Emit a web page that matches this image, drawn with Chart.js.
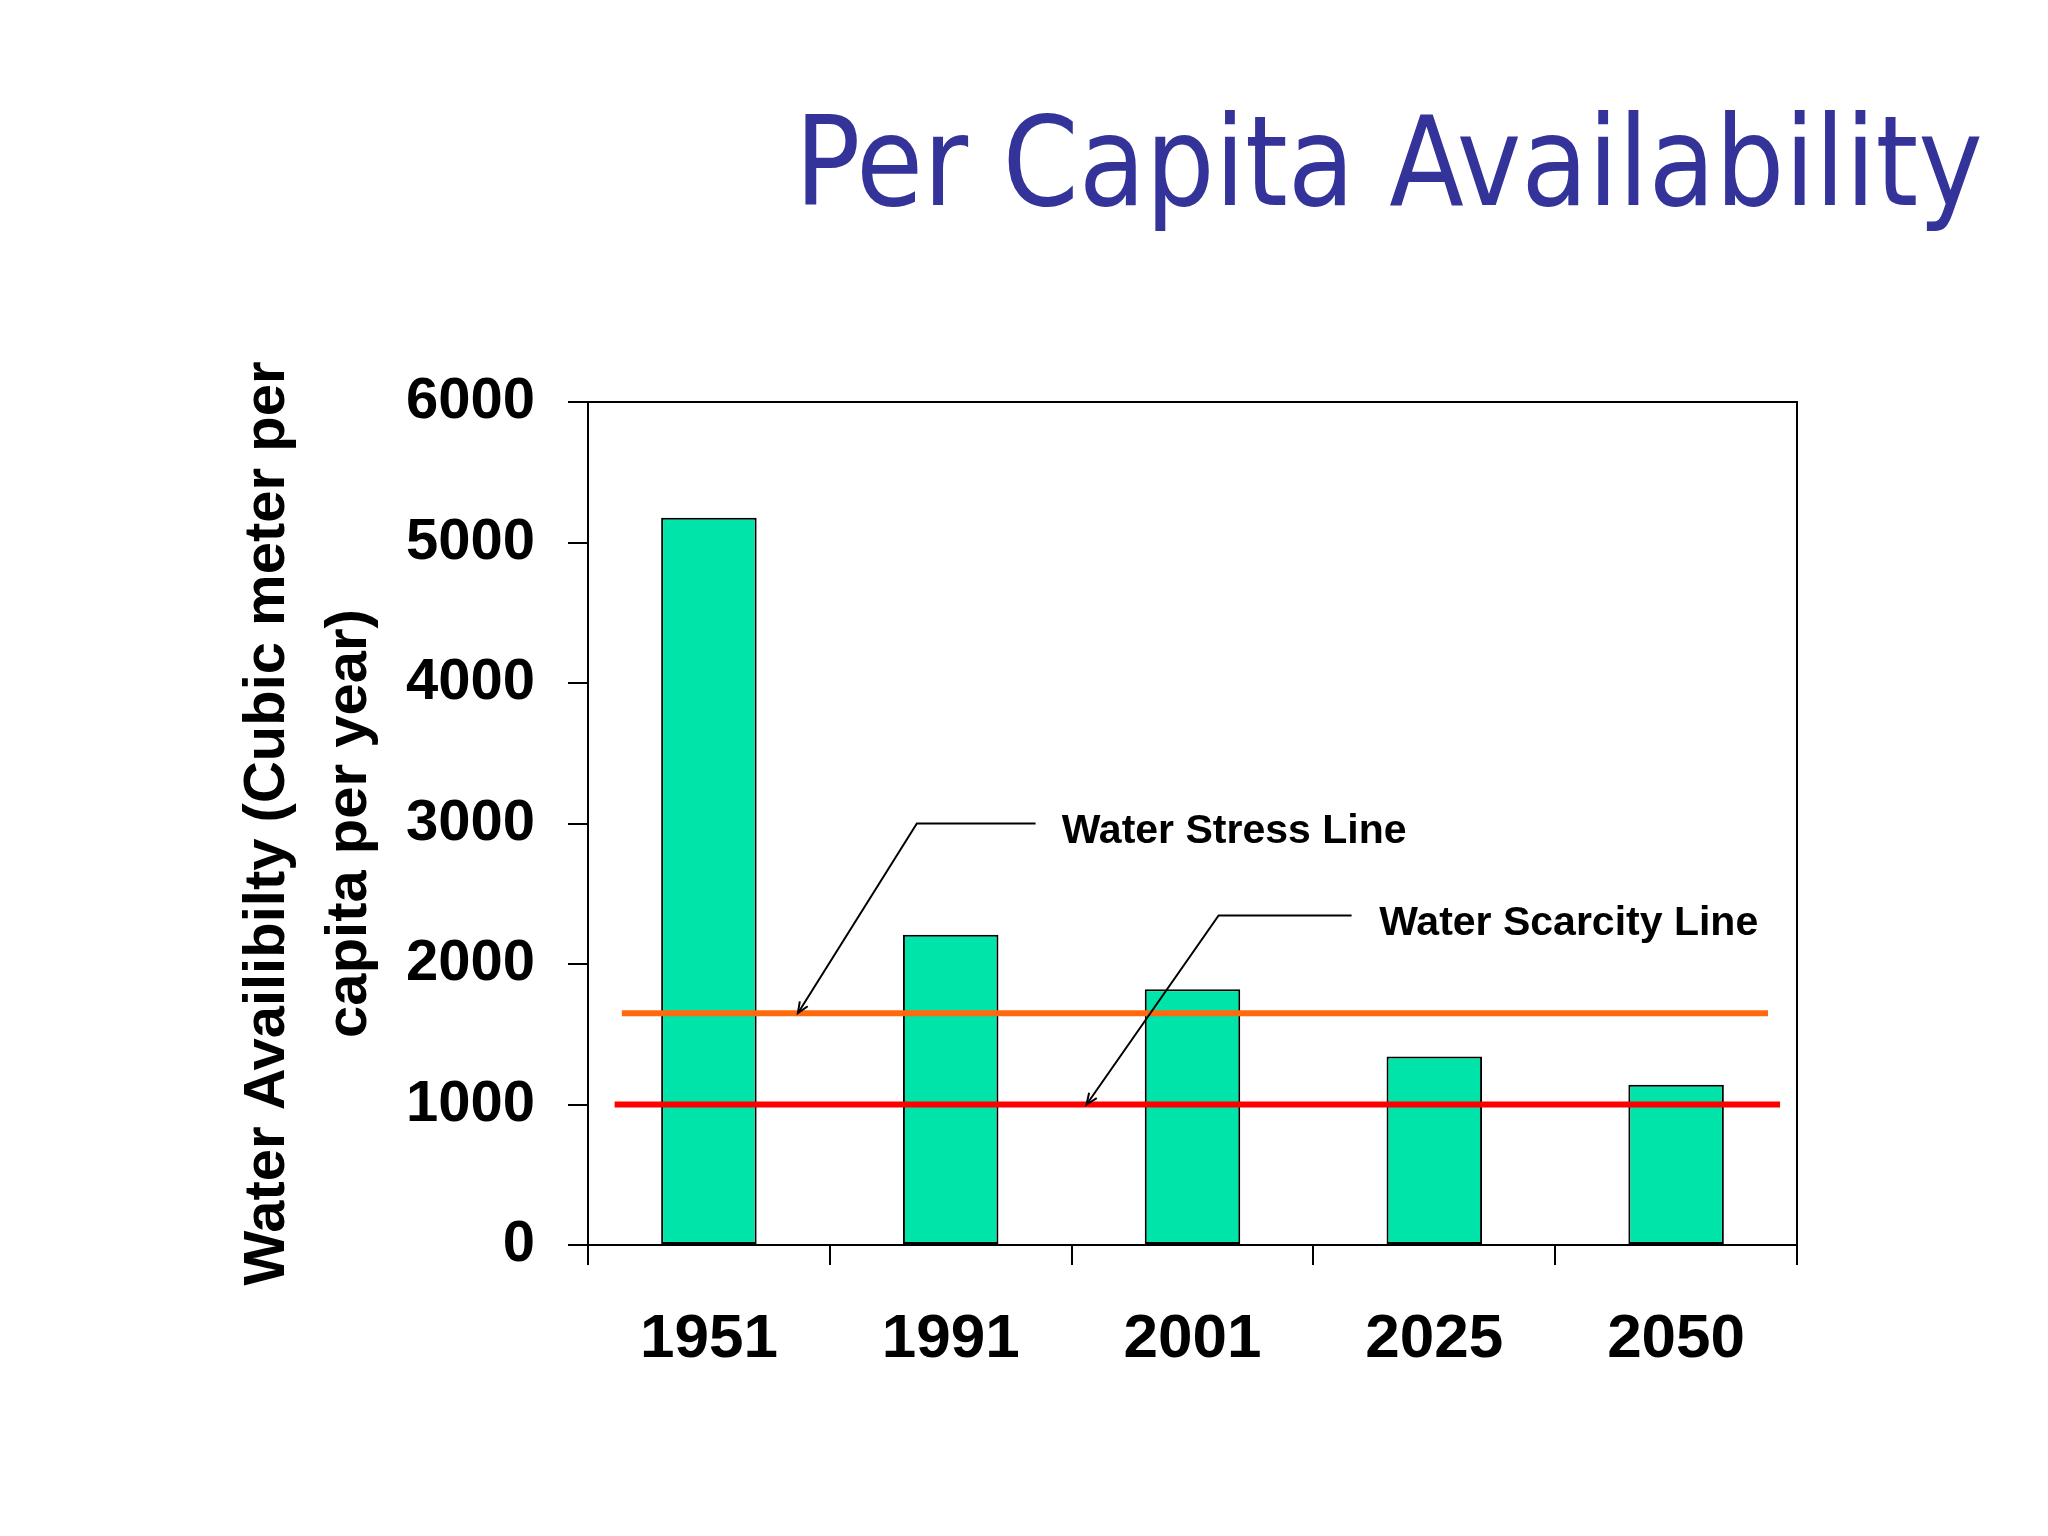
<!DOCTYPE html>
<html>
<head>
<meta charset="utf-8">
<title>Per Capita Availability</title>
<script src="https://cdn.jsdelivr.net/npm/chart.js@4.4.1/dist/chart.umd.min.js"></script>
<style>
    html, body { margin: 0; padding: 0; background: #fff; }
    body { width: 2048px; height: 1536px; position: relative; overflow: hidden; }
    #title {
        position: absolute; right: 65px; top: 100px;
        font-family: 'DejaVu Sans Condensed', 'DejaVu Sans', sans-serif;
        font-size: 124px; line-height: 1; color: #333399;
        white-space: nowrap; transform-origin: right top;
    }
    #wrap { position: absolute; left: 0; top: 0; width: 2048px; height: 1536px; }
</style>
</head>
<body>
<div id="title">Per Capita Availability</div>
<div id="wrap"><canvas id="chart" width="2048" height="1536"></canvas></div>
<script>
// Werte
const years = ['1951', '1991', '2001', '2025', '2050'];
const availability = [5177, 2209, 1820, 1341, 1140];
const yTicks = [0, 1000, 2000, 3000, 4000, 5000, 6000];
const stressLevel = 1650;
const scarcityLevel = 1000;
const stressSpan = [-0.36, 4.38];
const scarcitySpan = [-0.39, 4.43];

// Beschriftungen mit Pfeil (in Datenkoordinaten)
const callouts = [
    { text: 'Water Stress Line', tip: [0.368, 1650], elbow: [0.86, 3000], end: [1.351, 3000], label: [1.459, 2945] },
    { text: 'Water Scarcity Line', tip: [1.562, 1000], elbow: [2.108, 2345], end: [2.658, 2345], label: [2.772, 2285] }
];

// Titel auf Zielbreite bringen
const titleEl = document.getElementById('title');
const tw = titleEl.getBoundingClientRect().width;
titleEl.style.transform = `scaleX(${1188 / tw})`;

const frameBox = {
    id: 'frameBox',
    afterDatasetsDraw(chart) {
        const { ctx, chartArea: a } = chart;
        ctx.save();
        ctx.strokeStyle = '#000';
        ctx.lineWidth = 2;
        ctx.beginPath();
        ctx.moveTo(a.left, a.top);
        ctx.lineTo(a.right, a.top);
        ctx.lineTo(a.right, a.bottom);
        ctx.stroke();
        ctx.restore();
    }
};

const calloutPlugin = {
    id: 'calloutPlugin',
    afterDatasetsDraw(chart) {
        const { ctx } = chart;
        const xs = chart.scales.x2;
        const ys = chart.scales.y;
        const px = p => [xs.getPixelForValue(p[0]), ys.getPixelForValue(p[1])];
        ctx.save();
        ctx.strokeStyle = '#000';
        ctx.fillStyle = '#000';
        ctx.lineWidth = 2;
        callouts.forEach(c => {
            const tip = px(c.tip), elbow = px(c.elbow), end = px(c.end), lab = px(c.label);
            ctx.beginPath();
            ctx.moveTo(end[0], end[1]);
            ctx.lineTo(elbow[0], elbow[1]);
            ctx.lineTo(tip[0], tip[1]);
            ctx.stroke();
            // Pfeilspitze
            const ang = Math.atan2(tip[1] - elbow[1], tip[0] - elbow[0]);
            const len = 12;
            ctx.beginPath();
            ctx.moveTo(tip[0] - len * Math.cos(ang - 0.4), tip[1] - len * Math.sin(ang - 0.4));
            ctx.lineTo(tip[0], tip[1]);
            ctx.lineTo(tip[0] - len * Math.cos(ang + 0.4), tip[1] - len * Math.sin(ang + 0.4));
            ctx.stroke();
            ctx.font = 'bold 41px "Liberation Sans", Arial, sans-serif';
            ctx.textAlign = 'left';
            ctx.textBaseline = 'middle';
            ctx.fillText(c.text, lab[0], lab[1]);
        });
        ctx.restore();
    }
};

const ctx = document.getElementById('chart').getContext('2d');
new Chart(ctx, {
    type: 'bar',
    data: {
        labels: years,
        datasets: [
            {
                label: 'Water Availability',
                data: availability,
                backgroundColor: '#00E3A9',
                borderColor: '#000',
                borderWidth: 2,
                borderSkipped: false,
                grouped: false,
                barPercentage: 0.395,
                categoryPercentage: 1,
                xAxisID: 'x',
                order: 2
            },
            {
                type: 'line',
                label: 'Water Stress Line',
                data: [{ x: stressSpan[0], y: stressLevel }, { x: stressSpan[1], y: stressLevel }],
                borderColor: '#FF6A0E',
                borderWidth: 6,
                pointRadius: 0,
                xAxisID: 'x2',
                order: 1
            },
            {
                type: 'line',
                label: 'Water Scarcity Line',
                data: [{ x: scarcitySpan[0], y: scarcityLevel }, { x: scarcitySpan[1], y: scarcityLevel }],
                borderColor: '#FF0000',
                borderWidth: 6,
                pointRadius: 0,
                xAxisID: 'x2',
                order: 0
            }
        ]
    },
    options: {
        responsive: false,
        animation: false,
        layout: { padding: { top: 402, right: 251, bottom: 0, left: 0 } },
        plugins: {
            legend: { display: false },
            tooltip: { enabled: false }
        },
        scales: {
            x: {
                type: 'category',
                offset: true,
                grid: { display: true, offset: true, drawOnChartArea: false, drawTicks: true, tickLength: 20, color: '#000', lineWidth: 2 },
                border: { display: true, color: '#000', width: 2 },
                ticks: {
                    color: '#000',
                    padding: 38,
                    font: { family: '"Liberation Sans", Arial, sans-serif', size: 62, weight: 'bold' }
                },
                afterFit(scale) { scale.height = 291; }
            },
            x2: {
                type: 'linear',
                display: false,
                offset: false,
                grid: { offset: false },
                min: -0.5,
                max: 4.5
            },
            y: {
                min: 0,
                max: 6000,
                afterBuildTicks(scale) { scale.ticks = yTicks.map(v => ({ value: v })); },
                grid: { display: true, drawOnChartArea: false, drawTicks: true, tickLength: 20, color: '#000', lineWidth: 2 },
                border: { display: true, color: '#000', width: 2 },
                ticks: {
                    color: '#000',
                    padding: 33,
                    callback: (value) => String(value),
                    font: { family: '"Liberation Sans", Arial, sans-serif', size: 58, weight: 'bold' }
                },
                title: {
                    display: true,
                    text: ['Water Availibilty (Cubic meter per', 'capita per year)'],
                    color: '#000',
                    padding: { top: 227, bottom: 0 },
                    font: { family: '"Liberation Sans", Arial, sans-serif', size: 58, weight: 'bold', lineHeight: 82 / 58 }
                },
                afterFit(scale) { scale.width = 588; }
            }
        }
    },
    plugins: [frameBox, calloutPlugin]
});
</script>
</body>
</html>
